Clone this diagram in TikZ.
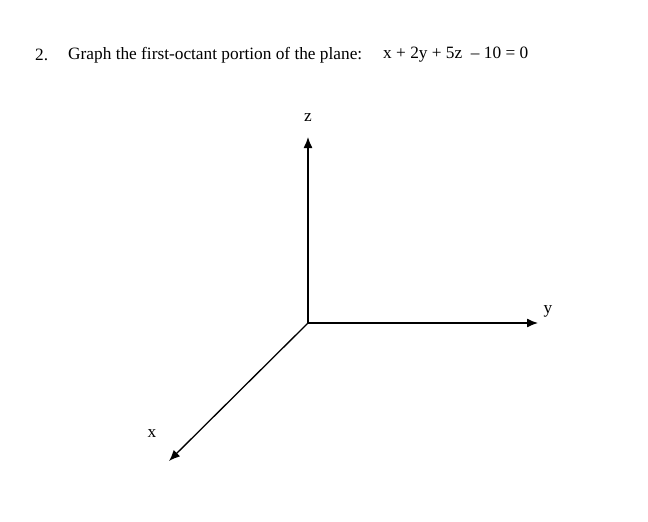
\documentclass[tikz,border=0pt]{standalone}
\usepackage{fontspec}
\setmainfont{Liberation Serif}
\usetikzlibrary{arrows.meta}
\begin{document}
\begin{tikzpicture}[x=1pt,y=-1pt,
    axis/.style={line width=1.3pt,-{Latex[length=11pt,width=9pt]}},
    lbl/.style={inner sep=0pt,font=\fontsize{17.3}{20}\selectfont}]
    \useasboundingbox (0,0) rectangle (648,522);

    \node[lbl,anchor=west] (num) at (35,55) {2.};
    \node[lbl,anchor=west] (task) at (68,55) {Graph the first-octant portion of the plane:};
    \node[lbl,anchor=west] (eq) at (383,55) {x + 2y + 5z \ – 10 = 0};

    \coordinate (O) at (308,323);
    \coordinate (zend) at (308,137);
    \coordinate (yend) at (538,323);
    \coordinate (xend) at (169,461);

    \draw[axis] (O) -- (zend);
    \draw[axis] (O) -- (yend);
    \draw[axis] (O) -- (xend);

    \node[lbl] (zlab) at (308,118) {z};
    \node[lbl] (ylab) at (548,311) {y};
    \node[lbl] (xlab) at (152,434) {x};
\end{tikzpicture}
\end{document}
